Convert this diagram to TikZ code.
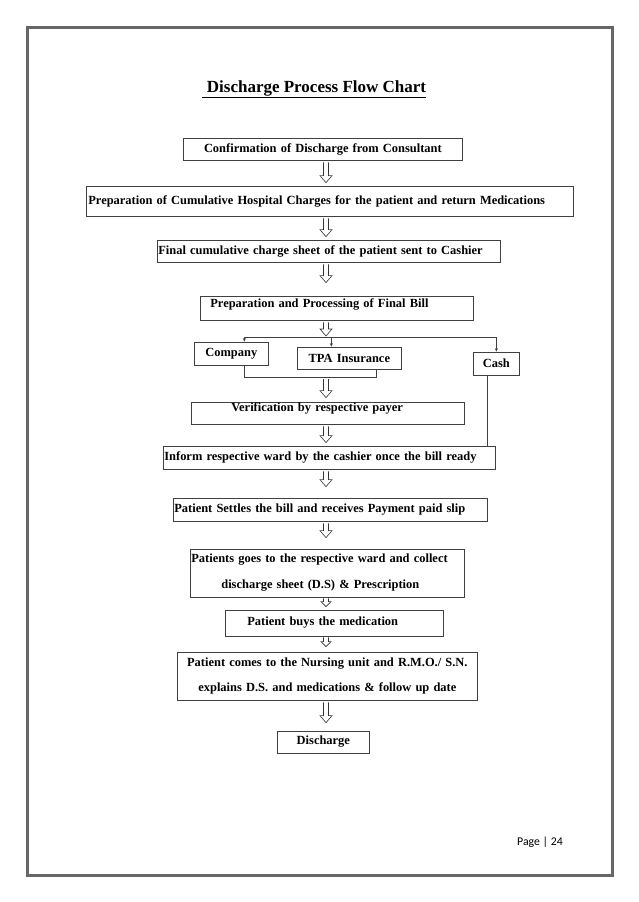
\documentclass[tikz,border=0pt]{standalone}
\usepackage{fontspec}
\setmainfont{Liberation Serif}
\newfontfamily\pagefont{Carlito}
\usetikzlibrary{arrows.meta}
\usetikzlibrary{calc}

\begin{document}
\begin{tikzpicture}[x=1pt,y=-1pt,
    flow node/.style={draw=black!75,line width=0.7pt,anchor=west,align=left,inner ysep=0pt,
      font=\bfseries\fontsize{12.45}{15}\selectfont},
    pay line/.style={draw=black!75,line width=0.6pt},
    pay tip/.style={pay line,-{Stealth[length=3.5pt,width=3pt]}},
    hollow/.style={draw=black!80,line width=0.6pt,to path={let \p1=(\tikztostart),\p2=(\tikztotarget) in
      (\x1-2.5pt,\y1-2pt) -- (\x1-2.5pt,\y2+#1+7pt) -- (\x1-6pt,\y2+#1+7pt) -- (\x1,\y2+#1)
      -- (\x1+6pt,\y2+#1+7pt) -- (\x1+2.5pt,\y2+#1+7pt) -- (\x1+2.5pt,\y1-2pt)}},
    hollow/.default=3pt,
    small hollow/.style={draw=black!80,line width=0.6pt,to path={let \p1=(\tikztostart),\p2=(\tikztotarget) in
      (\x1-2.5pt,\y1-1pt) -- (\x1-2.5pt,\y2+#1+5pt) -- (\x1-5pt,\y2+#1+5pt) -- (\x1,\y2+#1)
      -- (\x1+5pt,\y2+#1+5pt) -- (\x1+2.5pt,\y2+#1+5pt) -- (\x1+2.5pt,\y1-1pt)}},
    small hollow/.default=3pt
    ]
  \useasboundingbox (0,0) rectangle (638,902);
  \draw[draw=black!60,line width=3pt] (27,27) rectangle (612,875);

  \node[font=\bfseries\fontsize{17}{20}\selectfont] (title) at (314,89)
    {\underline{\hspace{5pt}Discharge Process Flow Chart}};

  \node[flow node,text width=275pt,inner xsep=2pt,align=center,minimum height=22pt] (conf) at (183,149)
    {Confirmation of Discharge from Consultant};
  \node[flow node,text width=483pt,inner xsep=2pt,minimum height=30pt] (cumul) at (86,201)
    {Preparation of Cumulative Hospital Charges for the patient and return Medications};
  \node[flow node,text width=341pt,inner xsep=1pt,minimum height=22pt] (sheet) at (157,251)
    {Final cumulative charge sheet of the patient sent to Cashier};
  \node[flow node,text width=253pt,inner xsep=10pt,minimum height=24pt,text height=9pt,text depth=10.4pt] (bill) at (200,308)
    {Preparation and Processing of Final Bill};

  \node[flow node,text width=70pt,inner xsep=2pt,align=center,minimum height=23pt] (company) at (194,353.5) {Company};
  \node[flow node,text width=100pt,inner xsep=2pt,align=center,minimum height=22pt] (tpa) at (297,358) {TPA Insurance};
  \node[flow node,text width=42pt,inner xsep=2pt,align=center,minimum height=23pt] (cash) at (473,363.5) {Cash};

  \node[flow node,text width=193pt,inner xsep=40pt,minimum height=22pt,text height=9pt,text depth=12.4pt] (verify) at (191,413)
    {Verification by respective payer};
  \node[flow node,text width=330pt,inner xsep=1pt,minimum height=23pt] (inform) at (163,457.5)
    {Inform respective ward by the cashier once the bill ready};
  \node[flow node,text width=312pt,inner xsep=1pt,minimum height=23pt] (settle) at (173,509.5)
    {Patient Settles the bill and receives Payment paid slip};
  \node[flow node,text width=272pt,inner xsep=1pt,minimum height=48pt] (ward) at (190,573)
    {Patients goes to the respective ward and collect\\[11pt]\hspace*{30pt}discharge sheet (D.S) \& Prescription};
  \node[flow node,text width=174pt,inner xsep=22pt,minimum height=26pt] (buys) at (225,623)
    {Patient buys the medication};
  \node[flow node,text width=296pt,inner xsep=2pt,align=center,minimum height=48pt] (nurse) at (177,676)
    {Patient comes to the Nursing unit and R.M.O./ S.N.\\[10pt]explains D.S. and medications \& follow up date};
  \node[flow node,text width=88pt,inner xsep=2pt,align=center,minimum height=22pt] (done) at (277,742) {Discharge};

  \node[font=\pagefont\fontsize{11.8}{14}\selectfont] (page) at (540,842) {Page | 24};

  \coordinate (axis) at (326,0);
  \coordinate (fork) at (0,337);
  \coordinate (merge) at (0,377);

  \draw[hollow] (conf.south -| axis) to (cumul.north -| axis);
  \draw[hollow] (cumul.south -| axis) to (sheet.north -| axis);
  \draw[hollow=13pt] (sheet.south -| axis) to (bill.north -| axis);
  \draw[hollow=1pt] (bill.south -| axis) to (axis |- fork);

  \draw[pay line] ([xshift=13pt]company.north |- fork) -- (cash.north |- fork);
  \draw[pay tip] ([xshift=13pt]company.north |- fork) -- ([xshift=13pt]company.north);
  \draw[pay tip] ([xshift=-18pt]tpa.north |- fork) -- ([xshift=-18pt]tpa.north);
  \draw[pay tip] (cash.north |- fork) -- (cash.north);
  \draw[pay line] ([xshift=13pt]company.south) -- ([xshift=13pt]company.south |- merge)
    -- ([xshift=27pt]tpa.south |- merge) -- ([xshift=27pt]tpa.south);
  \draw[pay line] ([xshift=-9pt]cash.south) -- ([xshift=-9pt]cash.south |- inform.north);

  \draw[hollow=4pt] (axis |- merge) to (verify.north -| axis);
  \draw[hollow] (verify.south -| axis) to (inform.north -| axis);
  \draw[hollow=11pt] (inform.south -| axis) to (settle.north -| axis);
  \draw[hollow=11pt] (settle.south -| axis) to (ward.north -| axis);
  \draw[small hollow] (ward.south -| axis) to (buys.north -| axis);
  \draw[small hollow=5pt] (buys.south -| axis) to (nurse.north -| axis);
  \draw[hollow=8pt] (nurse.south -| axis) to (done.north -| axis);
\end{tikzpicture}
\end{document}
